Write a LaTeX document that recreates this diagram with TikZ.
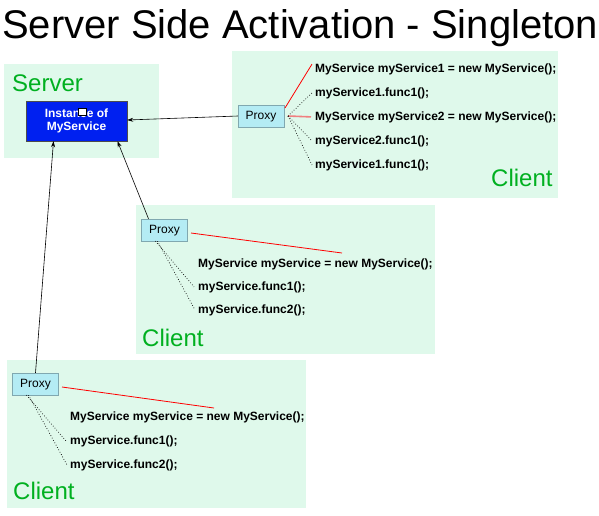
\documentclass[tikz,border=0pt]{standalone}
\usepackage{fontspec}
\setmainfont{Liberation Sans}
\definecolor{panelgreen}{HTML}{DFF9EB}
\definecolor{labelgreen}{HTML}{00B020}
\definecolor{instblue}{HTML}{0020F0}
\definecolor{proxyfill}{HTML}{B4ECF4}
\definecolor{proxyline}{HTML}{80A8B0}
\definecolor{salmon}{HTML}{F08080}
\tikzset{
  panel/.style={fill=panelgreen, draw=none},
  proxybox/.style={draw=proxyline, fill=proxyfill, minimum width=46pt, minimum height=22pt, inner sep=0pt, text height=8.6pt, text depth=2.6pt, font=\fontsize{12}{14}\selectfont},
  code/.style={anchor=base west, inner sep=0pt, font=\fontsize{12}{14}\selectfont\bfseries},
  biglabel/.style={anchor=base west, inner sep=0pt, text=labelgreen, font=\fontsize{24}{28}\selectfont},
  redlink/.style={red, line width=0.8pt},
  dotlink/.style={black, dotted, line width=0.7pt},
  callarrow/.style={-{Stealth[length=6pt,width=4pt]}, line width=0.6pt}
}
\usetikzlibrary{arrows.meta}
\begin{document}
\begin{tikzpicture}[x=1pt,y=-1pt]
\useasboundingbox (0,0) rectangle (599,515);
% title
\node[anchor=base west, inner sep=0pt, font=\fontsize{40}{46}\selectfont] (title) at (2,38.5) {Server Side Activation - Singleton};
% panels
\fill[panel] (4,64) rectangle (159,158);
\fill[panel] (232,51) rectangle (558,198);
\fill[panel] (136,205) rectangle (435,354);
\fill[panel] (7,360) rectangle (306,508);
% server
\node[biglabel] (serverlbl) at (12,91) {Server};
\node[draw=black!70, fill=instblue, text=white, minimum width=101pt, minimum height=40pt, inner sep=0pt, align=center, font=\fontsize{12}{12.5}\selectfont\bfseries] (inst) at (76.5,121) {Instance of\\MyService};
\node[draw=black, fill=white, minimum width=8pt, minimum height=7pt, inner sep=0pt] (sq) at (82,111.5) {};
% client 1
\node[proxybox] (p1) at (261,116) {Proxy};
\node[code] (c11) at (315,72) {MyService myService1 = new MyService();};
\node[code] (c12) at (315,96) {myService1.func1();};
\node[code] (c13) at (315,120) {MyService myService2 = new MyService();};
\node[code] (c14) at (315,144) {myService2.func1();};
\node[code] (c15) at (315,168) {myService1.func1();};
\node[biglabel] (cl1) at (491,186) {Client};
\coordinate (p1a) at (285,108);
\coordinate (p1b) at (288,116);
\draw[redlink] (p1a) -- ([xshift=-3pt,yshift=-1pt]c11.north west);
\draw[salmon, line width=1.6pt] (p1b) -- ([xshift=-4pt]c13.west);
\draw[dotlink] (p1b) -- ([xshift=-3pt]c12.west);
\draw[dotlink] (p1b) -- ([xshift=-3pt]c14.west);
\draw[dotlink] (p1b) -- ([xshift=-3pt]c15.west);
% client 2
\node[proxybox] (p2) at (164.5,230) {Proxy};
\node[code] (c21) at (198,267) {MyService myService = new MyService();};
\node[code] (c22) at (198,290) {myService.func1();};
\node[code] (c23) at (198,313) {myService.func2();};
\node[biglabel] (cl2) at (142,346) {Client};
\coordinate (p2r) at (191,233);
\coordinate (p2e) at (342,253);
\draw[redlink] (p2r) -- (p2e);
\draw[dotlink] ([xshift=-9pt]p2.south) -- ([xshift=-4pt]c22.west);
\draw[dotlink] ([xshift=-7pt]p2.south) -- ([xshift=-3pt]c23.west);
% client 3
\node[proxybox] (p3) at (35.5,384) {Proxy};
\node[code] (c31) at (70,420) {MyService myService = new MyService();};
\node[code] (c32) at (70,444) {myService.func1();};
\node[code] (c33) at (70,468) {myService.func2();};
\node[biglabel] (cl3) at (13,499) {Client};
\coordinate (p3r) at (62,387);
\coordinate (p3e) at (214,408);
\draw[redlink] (p3r) -- (p3e);
\draw[dotlink] ([xshift=-9pt]p3.south) -- ([xshift=-4pt]c32.west);
\draw[dotlink] ([xshift=-7pt]p3.south) -- ([xshift=-3pt]c33.west);
% arrows to instance
\draw[callarrow] (p1.west) -- ([yshift=1pt]inst.east);
\draw[callarrow] ([xshift=-16pt]p2.north) -- ([xshift=41pt]inst.south);
\draw[callarrow] (p3.north) -- ([xshift=-23pt]inst.south);
\end{tikzpicture}
\end{document}
